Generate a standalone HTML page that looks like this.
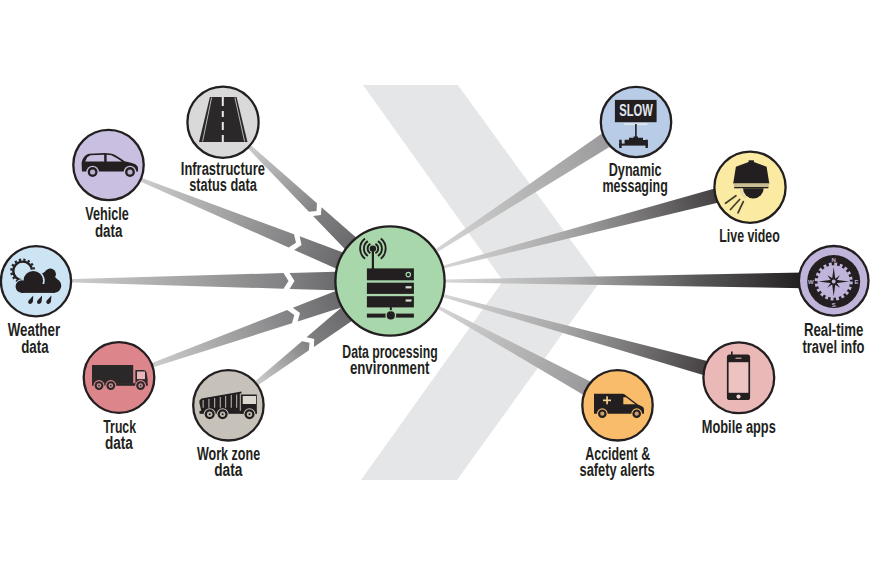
<!DOCTYPE html>
<html><head><meta charset="utf-8"><style>
html,body{margin:0;padding:0;background:#fff;}
svg{display:block;}
text{font-family:"Liberation Sans",sans-serif;font-weight:bold;fill:#231f20;}
</style></head><body>
<svg width="870" height="566" viewBox="0 0 870 566">
<defs><linearGradient id="g1" gradientUnits="userSpaceOnUse" x1="349.70" y1="242.55" x2="249.05" y2="146.55"><stop offset="0" stop-color="#6b6a6c"/><stop offset="0.326" stop-color="#807f81"/><stop offset="1" stop-color="#cdcdcd"/></linearGradient><linearGradient id="g2" gradientUnits="userSpaceOnUse" x1="338.40" y1="260.01" x2="141.48" y2="179.91"><stop offset="0" stop-color="#6b6a6c"/><stop offset="0.213" stop-color="#807f81"/><stop offset="1" stop-color="#cdcdcd"/></linearGradient><linearGradient id="g3" gradientUnits="userSpaceOnUse" x1="334.30" y1="280.95" x2="71.50" y2="280.73"><stop offset="0" stop-color="#6b6a6c"/><stop offset="0.172" stop-color="#807f81"/><stop offset="1" stop-color="#cdcdcd"/></linearGradient><linearGradient id="g4" gradientUnits="userSpaceOnUse" x1="337.50" y1="299.60" x2="152.65" y2="365.08"><stop offset="0" stop-color="#6b6a6c"/><stop offset="0.231" stop-color="#807f81"/><stop offset="1" stop-color="#cdcdcd"/></linearGradient><linearGradient id="g5" gradientUnits="userSpaceOnUse" x1="345.78" y1="314.87" x2="256.66" y2="383.15"><stop offset="0" stop-color="#6b6a6c"/><stop offset="0.403" stop-color="#807f81"/><stop offset="1" stop-color="#cdcdcd"/></linearGradient><linearGradient id="g6" gradientUnits="userSpaceOnUse" x1="435.81" y1="251.11" x2="606.18" y2="139.95"><stop offset="0" stop-color="#d6d6d6"/><stop offset="0.4" stop-color="#bdbdbd"/><stop offset="1" stop-color="#9c9b9d"/></linearGradient><linearGradient id="g7" gradientUnits="userSpaceOnUse" x1="442.91" y1="267.14" x2="715.17" y2="195.82"><stop offset="0" stop-color="#d6d6d6"/><stop offset="0.45" stop-color="#a8a8a8"/><stop offset="1" stop-color="#464243"/></linearGradient><linearGradient id="g8" gradientUnits="userSpaceOnUse" x1="444.70" y1="280.91" x2="798.50" y2="280.36"><stop offset="0" stop-color="#d6d6d6"/><stop offset="0.35" stop-color="#b0b0b0"/><stop offset="0.72" stop-color="#585758"/><stop offset="1" stop-color="#242122"/></linearGradient><linearGradient id="g9" gradientUnits="userSpaceOnUse" x1="442.73" y1="295.54" x2="704.29" y2="367.68"><stop offset="0" stop-color="#d6d6d6"/><stop offset="0.45" stop-color="#a8a8a8"/><stop offset="1" stop-color="#474344"/></linearGradient><linearGradient id="g10" gradientUnits="userSpaceOnUse" x1="438.05" y1="307.15" x2="586.23" y2="387.78"><stop offset="0" stop-color="#d6d6d6"/><stop offset="0.4" stop-color="#bdbdbd"/><stop offset="1" stop-color="#9a999b"/></linearGradient></defs>
<rect width="870" height="566" fill="#fff"/>
<polygon fill="#e5e6e8" points="363,85 457.8,85 600.5,281 457,480 361,480 503,281"/>
<polygon fill="url(#g1)" points="363.27,243.82 321.49,207.22 320.90,215.08 313.07,216.05 351.60,256.06"/>
<polygon fill="url(#g1)" points="316.97,203.26 245.98,141.07 243.43,143.74 308.90,211.72 316.56,210.94"/>
<polygon fill="url(#g2)" points="351.74,255.63 299.67,236.35 301.54,245.02 294.15,249.92 344.89,272.47"/>
<polygon fill="url(#g2)" points="294.04,234.26 136.60,175.98 135.24,179.33 288.66,247.48 295.98,242.76"/>
<polygon fill="url(#g3)" points="345.01,271.41 289.51,272.94 294.50,280.92 289.49,288.89 344.99,290.52"/>
<polygon fill="url(#g3)" points="283.51,273.11 65.50,279.15 65.50,282.30 283.49,288.71 288.50,280.91"/>
<polygon fill="url(#g4)" points="344.54,287.44 292.84,307.71 299.98,312.89 297.69,321.41 350.62,304.61"/>
<polygon fill="url(#g4)" points="287.25,309.90 146.31,365.15 147.68,369.02 291.97,323.22 294.33,314.89"/>
<polygon fill="url(#g5)" points="348.75,301.16 306.53,337.30 314.19,339.08 313.91,346.93 359.80,315.58"/>
<polygon fill="url(#g5)" points="301.97,341.21 250.64,385.15 253.16,388.45 308.95,350.32 309.43,342.73"/>
<polygon fill="url(#g6)" points="436.69,252.45 615.54,143.32 606.88,130.03 434.94,249.77"/>
<polygon fill="url(#g7)" points="443.29,268.59 722.85,201.43 719.11,187.17 442.53,265.69"/>
<polygon fill="url(#g8)" points="444.70,282.41 804.51,288.20 804.49,272.49 444.70,279.41"/>
<polygon fill="url(#g9)" points="442.33,296.99 708.11,376.39 712.03,362.17 443.13,294.10"/>
<polygon fill="url(#g10)" points="437.28,308.55 587.82,397.42 595.19,383.88 438.81,305.74"/>
<circle cx="223.0" cy="122.20" r="35.60" fill="#d9d9d9" stroke="#231f20" stroke-width="2.3"/>
<circle cx="108.5" cy="165.00" r="35.20" fill="#c9bfe0" stroke="#231f20" stroke-width="2.3"/>
<circle cx="36.0" cy="281.20" r="35.10" fill="#cce4f4" stroke="#231f20" stroke-width="2.3"/>
<circle cx="119.0" cy="377.50" r="35.30" fill="#dc868c" stroke="#231f20" stroke-width="2.3"/>
<circle cx="228.4" cy="405.30" r="35.20" fill="#c7c2b9" stroke="#231f20" stroke-width="2.3"/>
<circle cx="636.0" cy="122.00" r="35.20" fill="#b8cce7" stroke="#231f20" stroke-width="2.3"/>
<circle cx="750.0" cy="187.20" r="35.60" fill="#faeaa2" stroke="#231f20" stroke-width="2.3"/>
<circle cx="833.7" cy="280.80" r="34.80" fill="#c1b4da" stroke="#231f20" stroke-width="2.3"/>
<circle cx="738.8" cy="377.70" r="35.40" fill="#eab9b7" stroke="#231f20" stroke-width="2.3"/>
<circle cx="617.5" cy="405.30" r="35.20" fill="#f8bc6b" stroke="#231f20" stroke-width="2.3"/>
<circle cx="390" cy="281" r="54.6" fill="#a7d7aa" stroke="#231f20" stroke-width="2.3"/>
<g id="icons">
<!-- road -->
<g>
<polygon fill="#2b2829" points="209.9,97 236.6,97 247.5,142 199,142"/>
<line x1="211.6" y1="97.5" x2="202.6" y2="141.5" stroke="#c8c8c8" stroke-width="0.9"/>
<line x1="234.9" y1="97.5" x2="244.6" y2="141.5" stroke="#c8c8c8" stroke-width="0.9"/>
<rect x="221.8" y="97" width="2" height="9" fill="#e8e8e8"/>
<rect x="221.8" y="111" width="2" height="6" fill="#e8e8e8"/>
<rect x="221.8" y="122" width="2" height="8" fill="#e8e8e8"/>
<rect x="221.8" y="135" width="2" height="7" fill="#e8e8e8"/>
</g>
<!-- car -->
<g>
<path fill="#231f20" d="M82,171.5 L81.6,163.5 C82,159 85,154.5 89,153.8 L105,153.1 L112,153.8 C116,155 120.5,158.5 124.5,161.2 L130,162.6 C135,163.8 137.5,165 138,168 L138,171.5 Z"/>
<polygon fill="#c9bfe0" points="85.2,161.6 87.2,157.3 90.5,155.2 104.2,154.8 104.2,161.6"/>
<polygon fill="#c9bfe0" points="106.6,154.8 111.3,155.3 116.5,158 122,161.6 106.6,161.6"/>
<circle cx="92.6" cy="172" r="6.2" fill="#c9bfe0"/>
<circle cx="130" cy="172" r="6.2" fill="#c9bfe0"/>
<circle cx="92.6" cy="172" r="4.9" fill="#231f20"/>
<circle cx="130" cy="172" r="4.9" fill="#231f20"/>
<circle cx="92.6" cy="172" r="2.6" fill="#b9b0cc"/>
<circle cx="130" cy="172" r="2.6" fill="#b9b0cc"/>
</g>
<!-- truck -->
<g>
<rect x="92" y="365" width="41.2" height="18.7" fill="#2b2829"/>
<rect x="92" y="383.2" width="55.5" height="2.6" fill="#2b2829"/>
<path fill="#2b2829" d="M135.4,385.5 L135.4,370 L143.5,370 Q146,370 146.6,373 L147.6,379 L147.6,385.5 Z"/>
<rect x="137" y="371.5" width="8" height="7.6" fill="#e9b5b8"/>
<circle cx="99" cy="385.6" r="5.5" fill="#dc868c"/>
<circle cx="110.8" cy="385.6" r="5.5" fill="#dc868c"/>
<circle cx="140.6" cy="385.6" r="5.5" fill="#dc868c"/>
<circle cx="99" cy="385.6" r="4.4" fill="#2b2829"/>
<circle cx="110.8" cy="385.6" r="4.4" fill="#2b2829"/>
<circle cx="140.6" cy="385.6" r="4.4" fill="#2b2829"/>
<circle cx="99" cy="385.6" r="2.3" fill="#c99096"/><circle cx="99" cy="385.6" r="0.9" fill="#2b2829"/>
<circle cx="110.8" cy="385.6" r="2.3" fill="#c99096"/><circle cx="110.8" cy="385.6" r="0.9" fill="#2b2829"/>
<circle cx="140.6" cy="385.6" r="2.3" fill="#c99096"/><circle cx="140.6" cy="385.6" r="0.9" fill="#2b2829"/>
</g>
<!-- dump truck -->
<g>
<polygon fill="#231f20" points="199.4,400.6 201.5,398.6 241.5,391.5 241.5,393.3 239.8,393.8 239.8,411 201.3,411 199.4,403"/>
<g stroke="#a9a49b" stroke-width="1.2">
<line x1="203.2" y1="400" x2="203.2" y2="407.8"/>
<line x1="208.9" y1="399" x2="208.9" y2="407.8"/>
<line x1="214.6" y1="398" x2="214.6" y2="407.8"/>
<line x1="220.3" y1="397" x2="220.3" y2="407.8"/>
<line x1="225.6" y1="396" x2="225.6" y2="407.8"/>
<line x1="231.3" y1="395" x2="231.3" y2="407.8"/>
<line x1="236.6" y1="394.5" x2="236.6" y2="407.8"/>
</g>
<rect x="240.8" y="394.5" width="16" height="19.3" fill="#231f20"/>
<rect x="242.7" y="396" width="13.3" height="8" fill="#dcd8d0"/>
<rect x="199.5" y="410.8" width="57.3" height="3" fill="#231f20"/>
<circle cx="209.7" cy="414.2" r="6.0" fill="#c7c2b9"/>
<circle cx="222.6" cy="414.2" r="6.0" fill="#c7c2b9"/>
<circle cx="249.5" cy="414.2" r="6.0" fill="#c7c2b9"/>
<circle cx="209.7" cy="414.2" r="5.0" fill="#231f20"/>
<circle cx="222.6" cy="414.2" r="5.0" fill="#231f20"/>
<circle cx="249.5" cy="414.2" r="5.0" fill="#231f20"/>
<circle cx="209.7" cy="414.2" r="2.7" fill="#bdb8ae"/><circle cx="209.7" cy="414.2" r="1" fill="#231f20"/>
<circle cx="222.6" cy="414.2" r="2.7" fill="#bdb8ae"/><circle cx="222.6" cy="414.2" r="1" fill="#231f20"/>
<circle cx="249.5" cy="414.2" r="2.7" fill="#bdb8ae"/><circle cx="249.5" cy="414.2" r="1" fill="#231f20"/>
</g>
<!-- weather -->
<g>
<circle cx="22.7" cy="271" r="9.4" fill="none" stroke="#231f20" stroke-width="2.4"/>
<circle cx="22.7" cy="271" r="11.4" fill="none" stroke="#231f20" stroke-width="2.2" stroke-dasharray="2.3 2.2"/>
<circle cx="50.3" cy="274.2" r="5.6" fill="#231f20" stroke="#c8e2f3" stroke-width="1.4"/>
<circle cx="54.3" cy="285.8" r="7" fill="#231f20"/>
<circle cx="50.3" cy="274.2" r="5.6" fill="#231f20"/>
<path fill="#231f20" d="M38,276 L47,270.5 L54,276 L59,281 L58,291 L40,292 Z"/>
<circle cx="21.8" cy="286.5" r="6.4" fill="#231f20" stroke="#c8e2f3" stroke-width="1.6"/>
<circle cx="33.3" cy="280.8" r="10.6" fill="#231f20" stroke="#c8e2f3" stroke-width="1.6"/>
<circle cx="21.8" cy="286.5" r="6.2" fill="#231f20"/>
<rect x="21" y="284" width="34" height="8.9" fill="#231f20"/>
<path fill="#231f20" d="M29.8,304 Q27.6,303.5 28.5,300.8 L33.3,295.6 L32.9,301.2 Q32.4,304.4 29.8,304 Z"/>
<path fill="#231f20" d="M38.6,304 Q36.4,303.5 37.3,300.8 L42.1,295.6 L41.7,301.2 Q41.2,304.4 38.6,304 Z"/>
<path fill="#231f20" d="M47.9,304 Q45.7,303.5 46.6,300.8 L51.4,295.6 L51,301.2 Q50.5,304.4 47.9,304 Z"/>
</g>
<!-- server -->
<g>
<g fill="none" stroke="#231f20" stroke-width="1.9"><path d="M370.41,243.92 A5.3,5.3 0 0 0 370.41,253.28"/><path d="M375.39,243.92 A5.3,5.3 0 0 1 375.39,253.28"/><path d="M367.87,241.14 A9.0,9.0 0 0 0 367.87,256.06"/><path d="M377.93,241.14 A9.0,9.0 0 0 1 377.93,256.06"/><path d="M365.02,238.51 A12.8,12.8 0 0 0 365.02,258.69"/><path d="M380.78,238.51 A12.8,12.8 0 0 1 380.78,258.69"/></g>
<rect x="371.8" y="248.5" width="2.2" height="21" fill="#231f20"/>
<circle cx="372.9" cy="248.6" r="3.2" fill="#231f20"/>
<rect x="366.9" y="268.4" width="47" height="11.9" fill="#231f20"/>
<rect x="366.9" y="282.7" width="47" height="11.2" fill="#231f20"/>
<rect x="366.9" y="296.2" width="47" height="11.2" fill="#231f20"/>
<circle cx="408.3" cy="274.6" r="2.2" fill="none" stroke="#a7d7aa" stroke-width="1.2"/>
<rect x="405.6" y="286.2" width="5.9" height="2.2" fill="#cfe3cf"/>
<rect x="405.6" y="299.4" width="5.9" height="2.2" fill="#cfe3cf"/>
<rect x="389.8" y="307" width="2" height="8" fill="#231f20"/>
<rect x="366.9" y="313.6" width="47" height="4" fill="#231f20"/>
<circle cx="390.8" cy="315.4" r="5.4" fill="#a7d7aa"/>
<circle cx="390.8" cy="315.4" r="4.1" fill="#231f20"/>
</g>
<!-- slow sign -->
<g>
<rect x="614.9" y="99.9" width="41.7" height="22.3" fill="#231f20"/>
<text x="619.2" y="116.4" font-size="15.6" textLength="33.6" lengthAdjust="spacingAndGlyphs" style="fill:#e1e6ef">SLOW</text>
<rect x="624" y="123.2" width="23.4" height="1.9" fill="#dfe5ee"/>
<rect x="635.1" y="124" width="1.6" height="14" fill="#231f20"/>
<path fill="#231f20" d="M624.6,145 L624.6,139.7 L629,139.7 L629,137.8 L633.5,137.8 L633.5,136.5 L638,136.5 L638,137.8 L643,137.8 L643,140 L647,140 L647,145 Z"/>
<rect x="619.2" y="139.7" width="2.5" height="8.3" fill="#231f20"/>
<rect x="645.5" y="139.7" width="2.4" height="8.3" fill="#231f20"/>
<rect x="619.2" y="143.6" width="28.7" height="2" fill="#231f20"/>
</g>
<!-- camera -->
<g>
<rect x="748.6" y="160.3" width="5.3" height="2.5" fill="#231f20"/>
<polygon fill="#231f20" points="735.9,166.7 748.6,161.9 753.9,161.9 766.6,166.7 769.3,183.6 733.2,183.6"/>
<rect x="733.8" y="183.6" width="35" height="3.6" fill="#c9bd93"/>
<rect x="734.2" y="187" width="34.2" height="1.3" fill="#231f20"/>
<path fill="#231f20" d="M743,188.2 A10.3,10.3 0 0 0 763.6,188.2 Z"/>
<path fill="none" stroke="#e3d9ab" stroke-width="2.4" d="M740.8,188.6 A12.5,11.5 0 0 0 746,197.6"/>
<g stroke="#454030" stroke-width="1.8" stroke-linecap="round">
<line x1="735.9" y1="195.8" x2="725.5" y2="203.2"/>
<line x1="739.6" y1="199.5" x2="730.5" y2="209.5"/>
<line x1="743.3" y1="201.6" x2="738" y2="212.8"/>
</g>
</g>
<!-- compass -->
<g>
<circle cx="833.7" cy="281.5" r="26.5" fill="#231f20"/>
<circle cx="833.7" cy="281.5" r="16.2" fill="#c1b4da"/>
<circle cx="833.7" cy="281.5" r="17.4" fill="none" stroke="#c1b4da" stroke-width="3.2" stroke-dasharray="2.9 2.57"/>
<path fill="#231f20" d="M833.7,266.9 L835.4,279.8 L849.1,281.5 L835.4,283.2 L833.7,296.6 L832,283.2 L818.4,281.5 L832,279.8 Z"/>
<path fill="#231f20" d="M840,275.2 L835.5,282 L827.4,287.8 L832,281 Z M827.4,275.2 L834.5,279.5 L840,287.8 L833,283.5 Z"/>
<circle cx="833.7" cy="281.5" r="1.9" fill="#c1b4da"/>
<g style="font-size:6px" text-anchor="middle">
<text x="833.7" y="261.5" style="fill:#c1b4da;font-size:6px">N</text>
<text x="833.7" y="307" style="fill:#c1b4da;font-size:6px">S</text>
<text x="856.5" y="284" style="fill:#c1b4da;font-size:6px">E</text>
<text x="810.8" y="284" style="fill:#c1b4da;font-size:6px">W</text>
</g>
</g>
<!-- phone -->
<g>
<rect x="731" y="351.5" width="1.6" height="4" fill="#231f20"/>
<rect x="726.9" y="354.6" width="23.2" height="45.4" rx="2.6" fill="#231f20"/>
<rect x="728.6" y="362.2" width="19.8" height="30.6" fill="#edc3c1"/>
<rect x="735.5" y="357.6" width="6" height="1.3" fill="#bfa0a0"/>
<circle cx="738.5" cy="396.6" r="2.1" fill="#f1d3d2"/>
</g>
<!-- ambulance -->
<g>
<path fill="#231f20" d="M594,413.7 L594,393.7 L622.7,393.7 Q624.5,394 626,395.5 L637.5,404.3 L642.3,406.5 Q644,407.3 644,409.5 L644,413.7 Z"/>
<polygon fill="#f8bc6b" points="623.3,397.3 626,397.3 635.3,404.3 623.3,404.3"/>
<rect x="603" y="399.5" width="8" height="1.7" fill="#f3d18f"/>
<rect x="606.2" y="396.3" width="1.7" height="8" fill="#f3d18f"/>
<circle cx="602.3" cy="413.7" r="5.4" fill="#f8bc6b"/>
<circle cx="636.7" cy="413.7" r="5.4" fill="#f8bc6b"/>
<circle cx="602.3" cy="413.7" r="4.3" fill="#231f20"/>
<circle cx="636.7" cy="413.7" r="4.3" fill="#231f20"/>
<circle cx="602.3" cy="413.7" r="2.1" fill="#c9a070"/>
<circle cx="636.7" cy="413.7" r="2.1" fill="#c9a070"/>
</g>
</g>

<g id="labels">
<text x="180.8" y="174.7" font-size="18" textLength="84.2" lengthAdjust="spacingAndGlyphs">Infrastructure</text>
<text x="189.2" y="191" font-size="18" textLength="67.6" lengthAdjust="spacingAndGlyphs">status data</text>
<text x="85.3" y="219.8" font-size="18" textLength="43.6" lengthAdjust="spacingAndGlyphs">Vehicle</text>
<text x="94.9" y="236.8" font-size="18" textLength="27.4" lengthAdjust="spacingAndGlyphs">data</text>
<text x="7.7" y="335.7" font-size="18" textLength="52.4" lengthAdjust="spacingAndGlyphs">Weather</text>
<text x="21.2" y="352.8" font-size="18" textLength="27.4" lengthAdjust="spacingAndGlyphs">data</text>
<text x="103.3" y="432.5" font-size="18" textLength="32.7" lengthAdjust="spacingAndGlyphs">Truck</text>
<text x="104.9" y="449" font-size="18" textLength="27.9" lengthAdjust="spacingAndGlyphs">data</text>
<text x="197.0" y="459.7" font-size="18" textLength="63.1" lengthAdjust="spacingAndGlyphs">Work zone</text>
<text x="214.2" y="476.4" font-size="18" textLength="28.1" lengthAdjust="spacingAndGlyphs">data</text>
<text x="342.3" y="357.8" font-size="18" textLength="95.4" lengthAdjust="spacingAndGlyphs">Data processing</text>
<text x="349.9" y="373.6" font-size="18" textLength="79.5" lengthAdjust="spacingAndGlyphs">environment</text>
<text x="608.7" y="175.9" font-size="18" textLength="52.8" lengthAdjust="spacingAndGlyphs">Dynamic</text>
<text x="602.4" y="192" font-size="18" textLength="65.4" lengthAdjust="spacingAndGlyphs">messaging</text>
<text x="719.3" y="242" font-size="18" textLength="60.5" lengthAdjust="spacingAndGlyphs">Live video</text>
<text x="803.9" y="336.2" font-size="18" textLength="59.5" lengthAdjust="spacingAndGlyphs">Real-time</text>
<text x="802.5" y="352.8" font-size="18" textLength="61.9" lengthAdjust="spacingAndGlyphs">travel info</text>
<text x="701.8" y="432.6" font-size="18" textLength="74.0" lengthAdjust="spacingAndGlyphs">Mobile apps</text>
<text x="585.3" y="459.7" font-size="18" textLength="64.8" lengthAdjust="spacingAndGlyphs">Accident &amp;</text>
<text x="579.5" y="475.8" font-size="18" textLength="75.2" lengthAdjust="spacingAndGlyphs">safety alerts</text>
</g>
</svg>
</body></html>
